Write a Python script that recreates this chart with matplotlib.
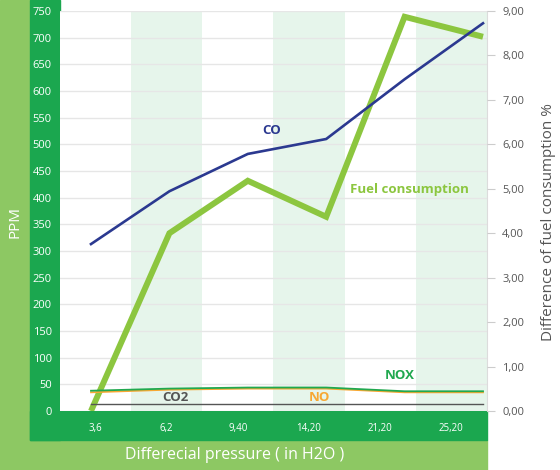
import matplotlib
matplotlib.use("Agg")
import matplotlib.pyplot as plt
from matplotlib.patches import Rectangle

plt.rcParams['font.family'] = ['Open Sans', 'DejaVu Sans']

categories = ["3,6", "6,2", "9,40", "14,20", "21,20", "25,20"]
co = [313, 412, 482, 510, 622, 727]
nox = [38, 42, 44, 44, 37, 37]
no = [35, 40, 42, 42, 35, 35]
co2 = [13, 13, 13, 13, 13, 13]
fuel = [0.0, 4.0, 5.18, 4.37, 8.87, 8.42]
ppm_ticks = list(range(0, 751, 50))
fuel_ticks = [0, 1, 2, 3, 4, 5, 6, 7, 8, 9]

W, H = 560, 470
fig = plt.figure(figsize=(W / 100, H / 100), dpi=100)
fig.patch.set_facecolor('white')

def fx(x):
    return x / W

def fy(y):
    return 1 - y / H

LIGHT = '#8dc863'
DARK = '#1ba74f'
# background bands
for (x0, y0, w, h, c) in [
    (0, 0, fx(30), 1, LIGHT),
    (0, 0, fx(487), fy(440), LIGHT),
    (fx(30), fy(440), fx(30), 1 - fy(440), DARK),
    (fx(30), fy(440), fx(457), fy(411) - fy(440), DARK),
]:
    fig.patches.append(Rectangle((x0, y0), w, h, transform=fig.transFigure, color=c, zorder=-10))

pos = [fx(60), fy(411), fx(427), fy(11) - fy(411)]

# base axes: bands, grid, category ticks, PPM ticks
axb = fig.add_axes(pos)
axb.set_zorder(0)
axb.set_xlim(-0.5, len(categories) - 0.5)
axb.set_ylim(0, 750)
for i in range(len(categories)):
    if i % 2 == 1:
        axb.axvspan(i - 0.5, i + 0.5, color='#e6f5eb', zorder=0, lw=0)
for t in ppm_ticks:
    axb.axhline(t, color='#e6e6e6', lw=1, zorder=1)
axb.set_xticks(range(len(categories)))
axb.set_xticklabels(categories)
axb.set_yticks(ppm_ticks)
axb.set_yticklabels([str(t) for t in ppm_ticks])
axb.tick_params(axis='both', length=0, labelcolor='white')
axb.tick_params(axis='x', labelsize=7, pad=9)
axb.tick_params(axis='y', labelsize=8, pad=6)
for s in ['left', 'top', 'bottom']:
    axb.spines[s].set_visible(False)
axb.spines['right'].set_color('#dcdcdc')

xlim_pts = (-31 / 78.4, 5 + 4 / 78.4)
xs = list(range(len(categories)))

# fuel axes (right)
axf = fig.add_axes(pos, frameon=False)
axf.set_zorder(1)
axf.set_xlim(*xlim_pts)
axf.set_ylim(0, 9)
axf.plot(xs, fuel, color='#8cc63f', lw=4.3, solid_capstyle='butt', solid_joinstyle='miter', zorder=3)
axf.set_xticks([])
axf.yaxis.tick_right()
axf.set_yticks(fuel_ticks)
axf.set_yticklabels([f"{t:.2f}".replace('.', ',') for t in fuel_ticks])
axf.tick_params(axis='y', length=6, color='#cccccc', labelcolor='#555555', labelsize=8, pad=5)

# PPM lines axes
axl = fig.add_axes(pos, frameon=False)
axl.set_zorder(2)
axl.set_xlim(*xlim_pts)
axl.set_ylim(0, 750)
axl.set_xticks([])
axl.set_yticks([])
axl.plot(xs, co2, color='#555555', lw=1.0)
axl.plot(xs, no, color='#f7a833', lw=1.3)
axl.plot(xs, nox, color='#21a84f', lw=1.3)
axl.plot(xs, co, color='#2b3990', lw=1.9)

axl.text(2.31, 525, "CO", color='#2b3990', fontsize=9.5, fontweight='bold', ha='center', va='center')
axl.text(3.30, 416, "Fuel consumption", color='#8cc63f', fontsize=9.5, fontweight='bold', ha='left', va='center')
axl.text(3.94, 66, "NOX", color='#21a84f', fontsize=9.5, fontweight='bold', ha='center', va='center')
axl.text(1.08, 26, "CO2", color='#555555', fontsize=9.5, fontweight='bold', ha='center', va='center')
axl.text(2.92, 26, "NO", color='#f7a833', fontsize=9.5, fontweight='bold', ha='center', va='center')

fig.text(fx(15), fy(222), "PPM", color='white', fontsize=11, rotation=90, ha='center', va='center')
fig.text(fx(235), fy(455), "Differecial pressure ( in H2O )", color='white', fontsize=11.5, ha='center', va='center')
fig.text(fx(549), fy(222), "Difference of fuel consumption %", color='#555555', fontsize=11, rotation=90, ha='center', va='center')

fig.savefig("out.png", dpi=100)
